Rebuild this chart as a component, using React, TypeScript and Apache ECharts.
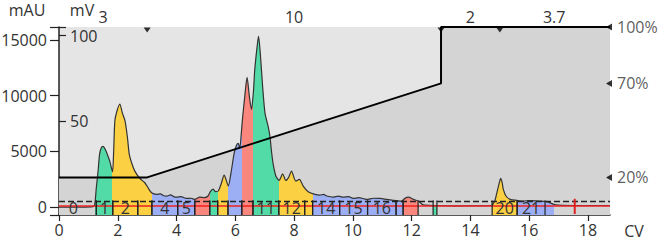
import React, { useEffect, useRef } from "react";
import * as echarts from "echarts";

// UV absorbance trace (mAU) against volume (CV)
const uvVolume = [
  0, 0.6, 1.1, 1.18, 1.22, 1.27, 1.33, 1.38, 1.44, 1.5,
  1.56, 1.62, 1.73, 1.82, 1.86, 1.9, 1.97, 2.07, 2.15, 2.25,
  2.33, 2.39, 2.47, 2.58, 2.75, 2.92, 3.03, 3.15, 3.32, 3.45,
  3.55, 3.66, 3.8, 3.9, 4.0, 4.15, 4.34, 4.5, 4.62, 4.79,
  4.95, 5.07, 5.15, 5.24, 5.33, 5.42, 5.52, 5.62, 5.68, 5.76,
  5.85, 5.96, 6.04, 6.1, 6.15, 6.2, 6.24, 6.32, 6.4, 6.48,
  6.55, 6.62, 6.66, 6.74, 6.79, 6.85, 6.93, 7.01, 7.12, 7.18,
  7.23, 7.29, 7.38, 7.49, 7.61, 7.72, 7.82, 7.91, 8.06, 8.18,
  8.31, 8.48, 8.65, 8.88, 9.0, 9.11, 9.33, 9.5, 9.67, 9.85,
  10.01, 10.2, 10.47, 10.7, 10.92, 11.15, 11.38, 11.66, 11.77, 11.89,
  12.06, 12.23, 12.4, 12.8, 13.5, 14.7, 14.82, 14.9, 14.97, 15.03,
  15.08, 15.12, 15.21, 15.35, 15.58, 15.8, 16.0, 16.3, 16.6, 16.9,
  17.5, 18.75,
];
const uvAbsorbance = [
  0, 0, 20, 80, 300, 1740, 3230, 4730, 5330, 5450,
  5250, 4900, 4100, 3170, 5000, 7700, 8600, 9250, 8500, 7700,
  6220, 4760, 3980, 3230, 2580, 2190, 1740, 1290, 1150, 1200,
  1050, 1000, 1100, 950, 900, 950, 790, 800, 700, 900,
  850, 1000, 1400, 1620, 1400, 1450, 2100, 2870, 2500, 1900,
  3030, 4820, 5560, 5720, 5270, 6500, 7800, 9890, 11630, 9890,
  8760, 10500, 12280, 14370, 15330, 13780, 10790, 8430, 7200, 6300,
  5030, 3830, 2790, 2400, 2990, 2400, 2700, 3230, 2340, 2490,
  1890, 1380, 1200, 1080, 1150, 1000, 900, 1000, 900, 950,
  790, 850, 700, 800, 790, 700, 610, 550, 790, 900,
  700, 550, 200, 150, 120, 150, 500, 1290, 2040, 2580,
  2200, 1590, 1000, 700, 610, 550, 600, 550, 500, 200,
  150, 150,
];

// Concentration %B
const gradientVolume = [0, 3, 13, 13, 18.75];
const gradientPercent = [20, 20, 70, 100, 100];

// Conductivity-like flat trace (mV)
const signalVolume = [0, 18.75];
const signalMV = [0.3, 0.3];

// Fraction bracket level (mAU)
const bracketVolume = [0, 18.75];
const bracketMAU = [500, 500];

// Fractions
const fractionStart = [-0.3, 1.27, 1.83, 2.68, 3.16, 4.04, 4.62, 5.13, 5.4, 5.75, 6.22, 6.6, 7.48, 8.36, 8.63, 9.55, 10.5, 11.47, 11.71, 12.73, 14.74, 15.59];
const fractionEnd = [1.27, 1.83, 2.68, 3.16, 4.04, 4.62, 5.13, 5.4, 5.75, 6.22, 6.6, 7.48, 8.36, 8.63, 9.55, 10.5, 11.47, 11.71, 12.22, 12.86, 15.59, 16.54];
const fractionLabels = ["0", "1", "2", "", "4", "5", "", "", "", "", "", "11", "12", "", "14", "15", "16", "", "", "", "20", "21"];

// Coloured pools (volume ranges)
const poolStart = [1.24, 1.82, 3.15, 4.62, 5.13, 5.4, 5.75, 6.22, 6.6, 7.48, 8.63, 11.7, 12.73, 14.74, 15.59];
const poolEnd = [1.82, 3.15, 4.62, 5.13, 5.4, 5.75, 6.22, 6.6, 7.48, 8.63, 11.7, 12.22, 12.86, 15.59, 16.84];

// Red event mark
const eventVolume = [17.55];

// Method blocks
const blockStart = [0, 3, 13, 15];
const blockLength = [3, 10, 2, 3.7];
const blockMarks = [3, 13, 15];

// %B reference marks on the right
const percentMarks = [100, 70, 20];

// Axis ticks
const xTicks = [0, 2, 4, 6, 8, 10, 12, 14, 16, 18];
const mauTicks = [0, 5000, 10000, 15000];
const mvTicks = [0, 50, 100];

const X_MAX = 18.75;
const MAU_MIN = -700;
const MAU_MAX = 16150;
const MV_MIN = -5;
const MV_MAX = 105;

const poolPalette = ["#52dba6", "#fcd043", "#9caff5", "#fa877e"];
const FONT = '"Open Sans", "Noto Sans", sans-serif';
const TXT = "#333";
const AX = "#222";

export default function App() {
  const ref = useRef<HTMLDivElement>(null);
  useEffect(() => {
    if (!ref.current) return;
    const chart = echarts.init(ref.current, undefined, { renderer: "svg" });
    const uvData = uvVolume.map((v, i) => [v, uvAbsorbance[i]]);
    const gradData = gradientVolume.map((v, i) => [v, gradientPercent[i]]);
    const pieces = poolStart.map((s, i) => ({ gte: s, lt: poolEnd[i], color: poolPalette[i % 4] }));
    const plain = (v: number) => String(v);

    const option: any = {
      animation: false,
      textStyle: { fontFamily: FONT },
      grid: { left: 59, right: 53, top: 27, bottom: 27, show: true, backgroundColor: "#e5e5e5", borderWidth: 0, containLabel: false, outerBoundsMode: "none" },
      visualMap: {
        show: false,
        type: "piecewise",
        dimension: 0,
        seriesIndex: 1,
        pieces,
        outOfRange: { color: "rgba(0,0,0,0)" },
      },
      xAxis: {
        type: "value",
        min: 0,
        max: X_MAX,
        splitLine: { show: false },
        axisLine: { show: true, onZero: false, lineStyle: { color: AX, width: 1.5 } },
        axisTick: { show: true, length: 6, customValues: xTicks, lineStyle: { color: AX, width: 1.2 } },
        axisLabel: { customValues: xTicks, formatter: plain, fontSize: 16, color: TXT, fontFamily: FONT, margin: 7 },
      },
      yAxis: [
        {
          type: "value",
          min: MAU_MIN,
          max: MAU_MAX,
          position: "left",
          splitLine: { show: false },
          axisLine: { show: true, onZero: false, lineStyle: { color: AX, width: 1.5 } },
          axisTick: { show: true, length: 9, customValues: [MAU_MIN, ...mauTicks, MAU_MAX], lineStyle: { color: AX, width: 1.2 } },
          axisLabel: { customValues: mauTicks, formatter: plain, fontSize: 16, color: TXT, fontFamily: FONT, margin: 12 },
        },
        {
          type: "value",
          min: MV_MIN,
          max: MV_MAX,
          position: "left",
          offset: 0,
          splitLine: { show: false },
          axisLine: { show: false },
          axisTick: { show: true, inside: true, length: 7, customValues: [...mvTicks, MV_MAX], lineStyle: { color: AX, width: 1.2 } },
          axisLabel: { inside: true, customValues: mvTicks, formatter: plain, fontSize: 16, color: TXT, fontFamily: FONT, margin: 11 },
        },
        {
          type: "value",
          min: 0,
          max: 100,
          position: "right",
          splitLine: { show: false },
          axisLine: { show: false },
          axisTick: { show: false },
          axisLabel: { show: false },
        },
      ],
      graphic: [
        { type: "text", x: 27, y: 10, style: { text: "mAU", font: `16px ${FONT}`, fill: TXT, textAlign: "center", textVerticalAlign: "middle", align: "center", verticalAlign: "middle" } },
        { type: "text", x: 82, y: 10, style: { text: "mV", font: `16px ${FONT}`, fill: TXT, textAlign: "center", textVerticalAlign: "middle", align: "center", verticalAlign: "middle" } },
        { type: "text", x: 634, y: 231, style: { text: "CV", font: `16px ${FONT}`, fill: TXT, textAlign: "center", textVerticalAlign: "middle", align: "center", verticalAlign: "middle" } },
      ],
      series: [
        {
          name: "%B area",
          type: "line",
          yAxisIndex: 2,
          data: gradData,
          showSymbol: false,
          silent: true,
          lineStyle: { width: 0 },
          areaStyle: { color: "#d4d4d4", opacity: 1, origin: "start" },
          z: 1,
        },
        {
          name: "UV fill",
          type: "line",
          yAxisIndex: 0,
          data: uvData,
          showSymbol: false,
          smooth: 0.25,
          silent: true,
          lineStyle: { width: 0 },
          areaStyle: { opacity: 1, origin: "start" },
          z: 2,
        },
        {
          name: "UV",
          type: "line",
          yAxisIndex: 0,
          data: uvData,
          showSymbol: false,
          smooth: 0.25,
          color: "#333",
          lineStyle: { color: "#333", width: 1.2 },
          z: 3,
        },
        {
          name: "brackets",
          type: "line",
          yAxisIndex: 0,
          data: bracketVolume.map((v, i) => [v, bracketMAU[i]]),
          showSymbol: false,
          lineStyle: { color: AX, width: 1.5, type: [6, 3] },
          z: 4,
        },
        {
          name: "signal",
          type: "line",
          yAxisIndex: 1,
          data: signalVolume.map((v, i) => [v, signalMV[i]]),
          showSymbol: false,
          lineStyle: { color: "#f02020", width: 1.5 },
          z: 4,
        },
        {
          name: "fractions",
          type: "custom",
          yAxisIndex: 0,
          data: fractionStart.map((s, i) => [s, fractionEnd[i], i]),
          encode: { x: [0, 1] },
          z: 5,
          renderItem: (params: any, api: any) => {
            const s = api.value(0);
            const e = api.value(1);
            const idx = api.value(2);
            const cs = params.coordSys;
            const top = api.coord([0, 600])[1];
            const bottom = cs.y + cs.height;
            const children: any[] = [];
            [s, e].forEach((v) => {
              const x = api.coord([v, 0])[0];
              if (x >= cs.x - 0.5 && x <= cs.x + cs.width + 0.5) {
                children.push({ type: "line", shape: { x1: x, y1: top, x2: x, y2: bottom }, style: { stroke: AX, lineWidth: 1.2 } });
              }
            });
            const label = fractionLabels[idx];
            if (label) {
              const p = api.coord([(s + e) / 2, -50]);
              children.push({ type: "text", x: p[0], y: p[1], style: { text: label, font: `16px ${FONT}`, fill: TXT, align: "center", verticalAlign: "middle", textAlign: "center", textVerticalAlign: "middle" } });
            }
            return { type: "group", children };
          },
        },
        {
          name: "event",
          type: "custom",
          yAxisIndex: 0,
          data: eventVolume.map((v) => [v, 0]),
          z: 5,
          renderItem: (params: any, api: any) => {
            const cs = params.coordSys;
            const p = api.coord([api.value(0), 750]);
            return { type: "line", shape: { x1: p[0], y1: p[1], x2: p[0], y2: cs.y + cs.height - 1 }, style: { stroke: "#e02020", lineWidth: 2 } };
          },
        },
        {
          name: "%B",
          type: "line",
          yAxisIndex: 2,
          data: gradData,
          showSymbol: false,
          color: "#000",
          lineStyle: { color: "#000", width: 2 },
          z: 6,
        },
        {
          name: "block marks",
          type: "scatter",
          yAxisIndex: 2,
          data: blockMarks.map((v) => [v, 100]),
          symbol: "triangle",
          symbolRotate: 180,
          symbolSize: [7, 5],
          symbolOffset: [0, 3],
          itemStyle: { color: "#000" },
          clip: false,
          z: 7,
        },
        {
          name: "percent marks",
          type: "scatter",
          yAxisIndex: 2,
          data: percentMarks.map((p) => [X_MAX, p]),
          symbol: "triangle",
          symbolRotate: 90,
          symbolSize: [7, 6],
          symbolOffset: [-1, 0],
          itemStyle: { color: "#000" },
          clip: false,
          z: 7,
          label: {
            show: true,
            position: "right",
            distance: 5,
            formatter: (p: any) => `${p.value[1]}%`,
            fontSize: 16,
            color: TXT,
            fontFamily: FONT,
          },
        },
        {
          name: "blocks",
          type: "custom",
          yAxisIndex: 2,
          data: blockStart.map((s, i) => [s, s + blockLength[i], blockLength[i]]),
          encode: { x: [0, 1] },
          z: 7,
          renderItem: (params: any, api: any) => {
            const cs = params.coordSys;
            const mid = (api.value(0) + api.value(1)) / 2;
            const x = api.coord([mid, 100])[0];
            return { type: "text", x, y: cs.y - 10, style: { text: String(api.value(2)), font: `16px ${FONT}`, fill: TXT, align: "center", verticalAlign: "middle", textAlign: "center", textVerticalAlign: "middle" } };
          },
        },
      ],
    };
    chart.setOption(option);
    return () => chart.dispose();
  }, []);
  return <div ref={ref} style={{ width: 663, height: 242, position: "absolute", left: 0, top: 0 }} />;
}
